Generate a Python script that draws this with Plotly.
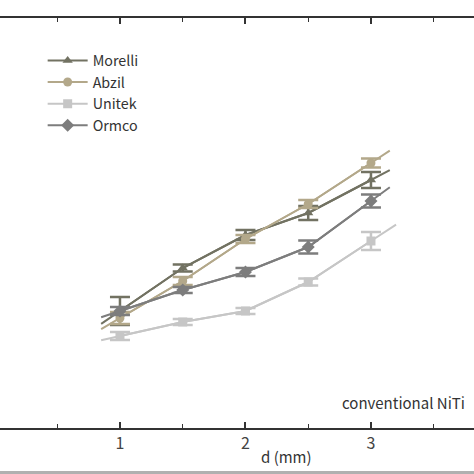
import plotly.graph_objects as go

d = [1.0, 1.5, 2.0, 2.5, 3.0]
series = ["Morelli", "Abzil", "Unitek", "Ormco"]
morelli = [1.17, 1.60, 1.93, 2.15, 2.48]
morelli_err = [0.14, 0.035, 0.05, 0.07, 0.08]
abzil = [1.10, 1.47, 1.89, 2.24, 2.65]
abzil_err = [0.06, 0.04, 0.04, 0.04, 0.045]
unitek = [0.92, 1.06, 1.17, 1.46, 1.87]
unitek_err = [0.04, 0.03, 0.03, 0.035, 0.09]
ormco = [1.17, 1.38, 1.56, 1.81, 2.27]
ormco_err = [0.04, 0.03, 0.04, 0.065, 0.065]
tick_vals = [1, 2, 3]
tick_text = ["1", "2", "3"]

values = [morelli, abzil, unitek, ormco]
errors = [morelli_err, abzil_err, unitek_err, ormco_err]
colors = ["#727262", "#b3a88a", "#c6c6c6", "#7d7d7d"]
symbols = ["triangle-up", "circle", "square", "diamond"]
sizes = [9, 9, 9, 10]
ext = [0.15, 0.15, 0.2, 0.15]

FONT = "Noto Sans CJK JP, Noto Sans, sans-serif"

fig = go.Figure()
for name, ys, es, c, s, sz, e in zip(series, values, errors, colors, symbols, sizes, ext):
    # line extended slightly beyond the end points along the first/last segments
    s0 = (ys[1] - ys[0]) / (d[1] - d[0])
    s1 = (ys[-1] - ys[-2]) / (d[-1] - d[-2])
    xl = [d[0] - 0.15] + d + [d[-1] + e]
    yl = [ys[0] - s0 * 0.15] + ys + [ys[-1] + s1 * e]
    fig.add_trace(go.Scatter(x=xl, y=yl, mode="lines", line=dict(color=c, width=2),
                             showlegend=False, hoverinfo="skip"))
    fig.add_trace(go.Scatter(x=d, y=ys, mode="lines+markers", name=name,
                             line=dict(color=c, width=2),
                             marker=dict(symbol=s, size=sz, color=c),
                             error_y=dict(type="data", array=es, color=c, thickness=2.5, width=10)))

fig.update_layout(
    width=474, height=474,
    margin=dict(l=0, r=0, t=18, b=46),
    paper_bgcolor="white", plot_bgcolor="white",
    font=dict(family=FONT, size=15, color="#333333"),
    showlegend=True,
    legend=dict(x=0.09, y=0.935, xanchor="left", yanchor="top",
                bgcolor="rgba(0,0,0,0)", font=dict(size=14.3, color="#333333"),
                itemwidth=40, tracegroupgap=0),
    xaxis=dict(range=[0.044, 3.821], showline=True, linecolor="#333333", linewidth=2,
               mirror="ticks", ticks="inside", ticklen=6, tickwidth=1.5, tickcolor="#333333",
               tickvals=tick_vals, ticktext=tick_text, showgrid=False, zeroline=False,
               tickfont=dict(size=16, color="#444444"),
               minor=dict(dtick=0.5, tick0=0.5, ticks="inside", ticklen=4, tickwidth=1.2,
                          tickcolor="#333333", showgrid=False)),
    yaxis=dict(range=[0, 4.1], showline=False, showticklabels=False, ticks="",
               showgrid=False, zeroline=False),
    annotations=[
        dict(text="d (mm)", x=286 / 474, y=-0.07, xref="paper", yref="paper",
             xanchor="center", yanchor="middle", showarrow=False,
             font=dict(size=15, color="#333333")),
        dict(text="conventional NiTi", x=467 / 474, y=(428 - 402) / 410, xref="paper", yref="paper",
             xanchor="right", yanchor="middle", showarrow=False,
             font=dict(size=15, color="#333333")),
    ],
    shapes=[dict(type="rect", xref="paper", yref="paper", x0=0, x1=1,
                 y0=(428 - 474) / 410, y1=(428 - 471) / 410,
                 fillcolor="#b0b0b0", line=dict(width=0))],
)

fig.write_html("out.html")
